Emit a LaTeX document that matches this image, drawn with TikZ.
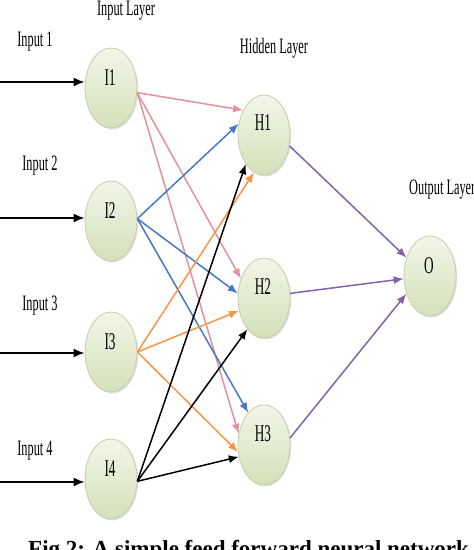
\documentclass[tikz,border=0pt]{standalone}
\usepackage{fontspec}
\setmainfont{Liberation Serif}
\usetikzlibrary{shapes.geometric,arrows.meta,shadows}
\definecolor{cpink}{RGB}{226,146,156}
\definecolor{cblue}{RGB}{70,120,195}
\definecolor{corange}{RGB}{247,150,70}
\definecolor{cpurple}{RGB}{128,100,172}
\definecolor{nodetop}{RGB}{242,246,232}
\definecolor{nodebot}{RGB}{212,224,186}
\definecolor{nodeedge}{RGB}{196,208,172}
\newcommand{\lbltxt}[1]{\fontsize{22}{24}\selectfont\scalebox{0.56}[1]{#1}}
\newcommand{\nodetxt}[1]{\fontsize{24}{26}\selectfont\scalebox{0.55}[1]{#1}}
\tikzset{
  neuron/.style={ellipse, minimum width=52pt, minimum height=80pt, inner sep=0pt,
    top color=nodetop, bottom color=nodebot, draw=nodeedge, line width=0.8pt,
    drop shadow={shadow xshift=1.2pt, shadow yshift=-1.5pt, opacity=0.25}},
  neurontext/.style={inner sep=0pt},
  labeltext/.style={inner sep=0pt},
  inarrow/.style={line width=1.7pt, -{Latex[length=11pt,width=9pt]}},
  conn/.style={line width=1.5pt, -{Latex[length=10pt,width=8pt]}},
}
\begin{document}
\begin{tikzpicture}[x=1pt,y=-1pt]
\useasboundingbox (0,0) rectangle (474,550);
\clip (0,0) rectangle (474,550);
\fill[white] (0,0) rectangle (474,550);

% neurons
\node[neuron] (I1) at (111,88) {};
\node[neuron] (I2) at (111,221) {};
\node[neuron] (I3) at (111,352) {};
\node[neuron] (I4) at (111,479) {};
\node[neuron] (H1) at (264,135) {};
\node[neuron] (H2) at (264,298) {};
\node[neuron] (H3) at (264,445) {};
\node[neuron] (O) at (430,276) {};

\node[neurontext] (tI1) at (110,78) {\nodetxt{I1}};
\node[neurontext] (tI2) at (110,211) {\nodetxt{I2}};
\node[neurontext] (tI3) at (110,342) {\nodetxt{I3}};
\node[neurontext] (tI4) at (110,469) {\nodetxt{I4}};
\node[neurontext] (tH1) at (263,123) {\nodetxt{H1}};
\node[neurontext] (tH2) at (263,287) {\nodetxt{H2}};
\node[neurontext] (tH3) at (263,434) {\nodetxt{H3}};
\node[neurontext] (tO) at (429,266) {\nodetxt{O}};

% labels
\node[labeltext] (lIL) at (126,11) {\lbltxt{Input Layer}};
\node[labeltext] (lHL) at (274,48) {\lbltxt{Hidden Layer}};
\node[labeltext, anchor=west] (lOL) at (409,190) {\lbltxt{Output Layer}};
\node[labeltext] (lin1) at (35,42) {\lbltxt{Input 1}};
\node[labeltext] (lin2) at (40,166) {\lbltxt{Input 2}};
\node[labeltext] (lin3) at (40,306) {\lbltxt{Input 3}};
\node[labeltext] (lin4) at (35,451) {\lbltxt{Input 4}};

% caption (cut off by the picture's lower edge, as in the reference)
\node[labeltext, anchor=base west] (cap) at (28,556)
  {\fontsize{23}{25}\selectfont\bfseries Fig.2: A simple feed forward neural network};

% input arrows
\coordinate (s1) at (0,82);
\coordinate (s2) at (0,218);
\coordinate (s3) at (0,353);
\coordinate (s4) at (0,482);
\draw[inarrow] (s1) -- (s1 -| I1.west);
\draw[inarrow] (s2) -- (s2 -| I2.west);
\draw[inarrow] (s3) -- (s3 -| I3.west);
\draw[inarrow] (s4) -- (s4 -| I4.west);

% input -> hidden
\draw[conn, cpink] (I1.-10) -- (H1.130);
\draw[conn, cpink] (I1.-10) -- (H2.140);
\draw[conn, cpink] (I1.-10) -- (H3.156);
\draw[conn, cblue] (I2.5) -- (H1.156);
\draw[conn, cblue] (I2.5) -- (H2.170);
\draw[conn, cblue] (I2.5) -- (H3.116);
\draw[conn, corange] (I3.0) -- (H1.255);
\draw[conn, corange] (I3.0) -- (H2.207);
\draw[conn, corange] (I3.0) -- (H3.195);
\draw[conn, black] (I4.-5) -- (H1.238);
\draw[conn, black] (I4.-5) -- (H2.242);
\draw[conn, black] (I4.-5) -- (H3.205);

% hidden -> output
\draw[conn, cpurple] (H1.-23) -- (O.142);
\draw[conn, cpurple] (H2.10) -- (O.186);
\draw[conn, cpurple] (H3.15) -- (O.217);
\end{tikzpicture}
\end{document}
